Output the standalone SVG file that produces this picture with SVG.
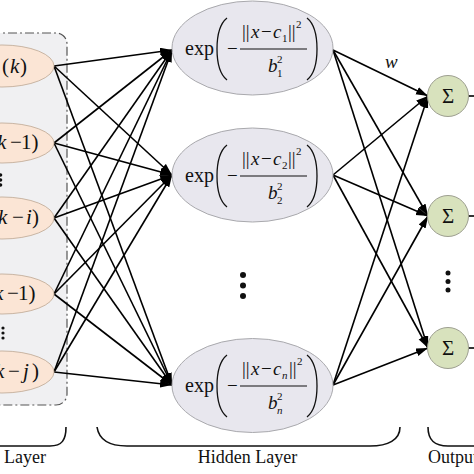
<svg xmlns="http://www.w3.org/2000/svg" width="474" height="474" viewBox="0 0 474 474">
<style>
.t{font-family:"Liberation Serif","Times New Roman",serif;fill:#111}
.i{font-style:italic}
.in{fill:#fbe5d5;stroke:#c9b5a3;stroke-width:1}
.hid{fill:#e8e7ee;stroke:#a9a9ad;stroke-width:1}
.out{fill:#d8e2bd;stroke:#9d9f90;stroke-width:1}
.c{stroke:#000;stroke-width:1.6;fill:none}
.ca{stroke:#000;stroke-width:1.6;fill:none;marker-end:url(#ah)}
.par{stroke:#111;stroke-width:1.3;fill:none}
.br{stroke:#111;stroke-width:1.6;fill:none}
</style>
<defs>
<marker id="ah" markerUnits="userSpaceOnUse" markerWidth="13" markerHeight="9" refX="12" refY="4" orient="auto">
<path d="M0,0 L12,4 L0,8 z" fill="#000"/>
</marker>
</defs>
<rect width="474" height="474" fill="#fff"/>
<rect x="-20" y="33" width="87" height="372" rx="11" fill="#f0f0f2" stroke="#555" stroke-width="1.2" stroke-dasharray="9 3 2 3"/>
<g id="connectors">
<line class="ca" x1="54" y1="66" x2="172" y2="50"/>
<line class="ca" x1="54" y1="66" x2="172" y2="175"/>
<line class="ca" x1="54" y1="66" x2="172" y2="385"/>
<line class="ca" x1="54" y1="143" x2="172" y2="50"/>
<line class="ca" x1="54" y1="143" x2="172" y2="175"/>
<line class="ca" x1="54" y1="143" x2="172" y2="385"/>
<line class="ca" x1="54" y1="218" x2="172" y2="50"/>
<line class="ca" x1="54" y1="218" x2="172" y2="175"/>
<line class="ca" x1="54" y1="218" x2="172" y2="385"/>
<line class="ca" x1="54" y1="294" x2="172" y2="50"/>
<line class="ca" x1="54" y1="294" x2="172" y2="175"/>
<line class="ca" x1="54" y1="294" x2="172" y2="385"/>
<line class="ca" x1="54" y1="372" x2="172" y2="50"/>
<line class="ca" x1="54" y1="372" x2="172" y2="175"/>
<line class="ca" x1="54" y1="372" x2="172" y2="385"/>
<line class="ca" x1="333" y1="50" x2="428" y2="96"/>
<line class="ca" x1="333" y1="50" x2="428" y2="216"/>
<line class="ca" x1="333" y1="50" x2="428" y2="348"/>
<line class="ca" x1="333" y1="175" x2="428" y2="96"/>
<line class="ca" x1="333" y1="175" x2="428" y2="216"/>
<line class="ca" x1="333" y1="175" x2="428" y2="348"/>
<line class="ca" x1="333" y1="385" x2="428" y2="96"/>
<line class="ca" x1="333" y1="385" x2="428" y2="216"/>
<line class="ca" x1="333" y1="385" x2="428" y2="348"/>
<line class="c" x1="468" y1="96" x2="474" y2="96"/>
<line class="c" x1="468" y1="216" x2="474" y2="216"/>
<line class="c" x1="468" y1="348" x2="474" y2="348"/>
</g>
<text class="t i" x="385" y="68" font-size="19">w</text>
<g id="in1"><ellipse class="in" cx="2" cy="66" rx="52" ry="21"/>
<text class="t" y="73" font-size="21"><tspan x="2">(</tspan><tspan x="10" class="i">k</tspan><tspan x="20">)</tspan></text></g>
<g id="in2"><ellipse class="in" cx="2" cy="143" rx="52" ry="20"/>
<text class="t" y="149" font-size="21"><tspan x="-3" class="i">k</tspan><tspan x="10">−</tspan><tspan x="21">1</tspan><tspan x="31.5">)</tspan></text></g>
<g id="in3"><ellipse class="in" cx="2" cy="218" rx="52" ry="21"/>
<text class="t" y="224" font-size="21"><tspan x="-2" class="i">k</tspan><tspan x="12">−</tspan><tspan x="26" class="i">i</tspan><tspan x="32">)</tspan></text></g>
<g id="in4"><ellipse class="in" cx="2" cy="294" rx="52" ry="20"/>
<text class="t" y="300" font-size="21"><tspan x="-6" class="i">k</tspan><tspan x="7">−</tspan><tspan x="18">1</tspan><tspan x="28.5">)</tspan></text></g>
<g id="in5"><ellipse class="in" cx="2" cy="372" rx="52" ry="21"/>
<text class="t" y="378" font-size="21"><tspan x="-5" class="i">k</tspan><tspan x="8">−</tspan><tspan x="23" class="i">j</tspan><tspan x="32">)</tspan></text></g>
<g id="indots" fill="#111">
<circle cx="0.5" cy="175" r="1.8"/><circle cx="0.5" cy="180" r="1.8"/><circle cx="0.5" cy="185" r="1.8"/>
<circle cx="3" cy="328" r="1.6"/><circle cx="3" cy="333" r="1.6"/><circle cx="3" cy="338" r="1.6"/>
</g>
<g id="h1" class="t">
<ellipse class="hid" cx="252.5" cy="48" rx="80.5" ry="47"/>
<text x="185" y="55" font-size="20">exp</text>
<path class="par" d="M227 18 Q217 26 217 49 Q217 72 227 80"/>
<path class="par" d="M307 18 Q317 26 317 49 Q317 72 307 80"/>
<text x="227" y="55" font-size="19">−</text>
<line x1="240" y1="49" x2="307" y2="49" stroke="#111" stroke-width="1.1"/>
<text y="38" font-size="19"><tspan x="242">||</tspan><tspan x="251" class="i">x</tspan><tspan x="261">−</tspan><tspan x="273" class="i">c</tspan></text>
<text x="282" y="42" font-size="11">1</text>
<text x="288" y="38" font-size="19">||</text>
<text x="296" y="28" font-size="11">2</text>
<text x="268" y="72" font-size="19" class="i">b</text>
<text x="277" y="77" font-size="11">1</text>
<text x="277" y="63" font-size="11">2</text>
</g>
<g id="h2" class="t">
<ellipse class="hid" cx="252.5" cy="175" rx="80.5" ry="47"/>
<text x="185" y="182" font-size="20">exp</text>
<path class="par" d="M227 145 Q217 153 217 176 Q217 199 227 207"/>
<path class="par" d="M307 145 Q317 153 317 176 Q317 199 307 207"/>
<text x="227" y="182" font-size="19">−</text>
<line x1="240" y1="176" x2="307" y2="176" stroke="#111" stroke-width="1.1"/>
<text y="165" font-size="19"><tspan x="242">||</tspan><tspan x="251" class="i">x</tspan><tspan x="261">−</tspan><tspan x="273" class="i">c</tspan></text>
<text x="282" y="169" font-size="11">2</text>
<text x="288" y="165" font-size="19">||</text>
<text x="296" y="155" font-size="11">2</text>
<text x="268" y="199" font-size="19" class="i">b</text>
<text x="277" y="204" font-size="11">2</text>
<text x="277" y="190" font-size="11">2</text>
</g>
<g id="hdots" fill="#111">
<circle cx="243" cy="275" r="3"/><circle cx="243" cy="285.5" r="3"/><circle cx="243" cy="296" r="3"/>
</g>
<g id="h3" class="t">
<ellipse class="hid" cx="252.5" cy="385.5" rx="80.5" ry="47"/>
<text x="185" y="392" font-size="20">exp</text>
<path class="par" d="M227 355 Q217 363 217 386 Q217 409 227 417"/>
<path class="par" d="M307 355 Q317 363 317 386 Q317 409 307 417"/>
<text x="227" y="392" font-size="19">−</text>
<line x1="240" y1="386" x2="307" y2="386" stroke="#111" stroke-width="1.1"/>
<text y="375" font-size="19"><tspan x="242">||</tspan><tspan x="251" class="i">x</tspan><tspan x="261">−</tspan><tspan x="273" class="i">c</tspan></text>
<text x="282" y="379" font-size="11" class="i">n</text>
<text x="289" y="375" font-size="19">||</text>
<text x="297" y="365" font-size="11">2</text>
<text x="268" y="409" font-size="19" class="i">b</text>
<text x="277" y="414" font-size="11" class="i">n</text>
<text x="277" y="400" font-size="11">2</text>
</g>
<g id="o1"><circle class="out" cx="448" cy="96" r="20.5"/><text class="t" x="448" y="103" font-size="21" text-anchor="middle">Σ</text></g>
<g id="o2"><circle class="out" cx="448" cy="216" r="20.5"/><text class="t" x="448" y="223" font-size="21" text-anchor="middle">Σ</text></g>
<g id="o3"><circle class="out" cx="448" cy="348" r="20.5"/><text class="t" x="448" y="355" font-size="21" text-anchor="middle">Σ</text></g>
<g id="odots" fill="#111">
<circle cx="448" cy="273" r="2.5"/><circle cx="448" cy="281.5" r="2.5"/><circle cx="448" cy="290" r="2.5"/>
</g>
<path class="br" d="M66 427 C66 440 62 446 50 446 L-5 446"/>
<path class="br" d="M97 427 C99 440 110 446 127 446 L370 446 C388 446 400 440 400 427"/>
<path class="br" d="M428 427 C428 440 434 446 448 446 L480 446"/>
<text class="t" x="46" y="463" font-size="18" text-anchor="end">Input Layer</text>
<text class="t" x="247.5" y="463" font-size="18" text-anchor="middle">Hidden Layer</text>
<text class="t" x="428" y="463" font-size="18">Output Layer</text>
</svg>
